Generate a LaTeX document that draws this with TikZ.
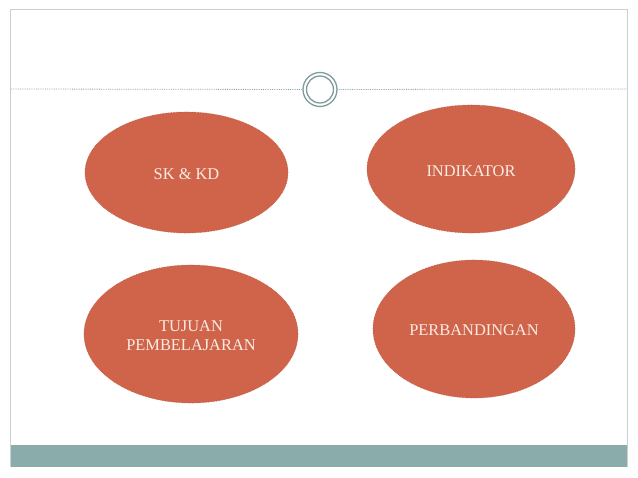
\documentclass[tikz,border=0pt]{standalone}
\usepackage{fontspec}
\setmainfont{Liberation Serif}
\usetikzlibrary{shapes.geometric}
\definecolor{ovalfill}{RGB}{208,100,74}
\definecolor{ovaledge}{RGB}{190,88,66}
\definecolor{ovaltext}{RGB}{250,236,228}
\definecolor{barfill}{RGB}{138,173,172}
\definecolor{framecol}{RGB}{200,208,208}
\definecolor{ringcol}{RGB}{125,155,158}
\definecolor{dotcol}{RGB}{140,162,165}
\tikzset{
  oval/.style={ellipse, fill=ovalfill, draw=ovaledge, line width=0.6pt, densely dotted, inner sep=0pt},
  ovaltxt/.style={text=ovaltext, font=\fontsize{16.4}{18.5}\selectfont, align=center},
  framelines/.style={draw=framecol, line width=1pt},
  sepline/.style={draw=dotcol, line width=0.8pt, densely dotted},
  ring/.style={draw=ringcol, line width=1.3pt, fill=white}
}
\begin{document}
\begin{tikzpicture}[x=1pt,y=-1pt]
\useasboundingbox (0,0) rectangle (638,478);
\fill[white] (0,0) rectangle (638,478);
% frame
\draw[framelines] (10.5,467) -- (10.5,10) -- (627,10) -- (627,467);
% bottom bar
\fill[barfill] (11,445) rectangle (627,467);
% separator
\coordinate (sl) at (11,89);
\coordinate (sr) at (627,89);
\node[circle, ring, minimum size=34pt, inner sep=0pt] (ringout) at (320,89.5) {};
\node[circle, draw=ringcol, line width=1.3pt, minimum size=27pt, inner sep=0pt] (ringin) at (320,89.5) {};
\draw[sepline] (sl) -- (ringout.west);
\draw[sepline] (ringout.east) -- (sr);
% ovals
\node[oval, minimum width=203pt, minimum height=121pt] (skkd) at (186.5,172.5) {};
\node[ovaltxt] at ([yshift=-1.5pt]skkd.center) {SK \& KD};
\node[oval, minimum width=208pt, minimum height=128pt] (indikator) at (471,169) {};
\node[ovaltxt] at ([yshift=-2pt]indikator.center) {INDIKATOR};
\node[oval, minimum width=214pt, minimum height=138pt] (tujuan) at (191,334) {};
\node[ovaltxt] at ([yshift=-1.5pt]tujuan.center) {TUJUAN\\PEMBELAJARAN};
\node[oval, minimum width=202pt, minimum height=138pt] (banding) at (474,329) {};
\node[ovaltxt] at ([yshift=-1pt]banding.center) {PERBANDINGAN};
\end{tikzpicture}
\end{document}
